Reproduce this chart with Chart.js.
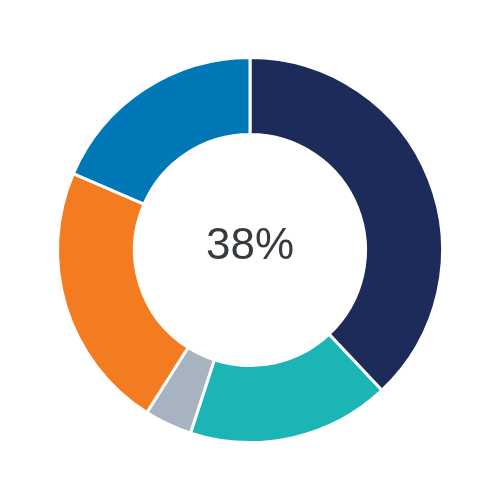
<!DOCTYPE html>
<html>
<head>
<meta charset="utf-8">
<script src="https://cdn.jsdelivr.net/npm/chart.js@4/dist/chart.umd.min.js"></script>
<style>
  html, body { margin: 0; padding: 0; background: #fff; }
  #wrap { width: 500px; height: 500px; }
</style>
</head>
<body>
<div id="wrap"><canvas id="chart"></canvas></div>
<script>
const labels = ['A', 'B', 'C', 'D', 'E'];
const values = [38, 17, 4, 22.5, 18.5];
const colors = ['#1c2b5a', '#1bb5b5', '#a8b3c2', '#f47c20', '#0077b6'];
const centerText = '38%';

const centerLabel = {
    id: 'centerLabel',
    afterDraw(chart) {
        const meta = chart.getDatasetMeta(0);
        const arc = meta.data[0];
        if (!arc) return;
        const ctx = chart.ctx;
        ctx.save();
        ctx.font = '44px "Liberation Sans", Arial, sans-serif';
        ctx.fillStyle = '#363b40';
        ctx.textAlign = 'center';
        ctx.textBaseline = 'middle';
        ctx.fillText(centerText, arc.x, arc.y - 3);
        ctx.restore();
    }
};

new Chart(document.getElementById('chart'), {
    type: 'doughnut',
    data: {
        labels: labels,
        datasets: [{
            data: values,
            backgroundColor: colors,
            borderColor: '#ffffff',
            borderWidth: 3
        }]
    },
    options: {
        responsive: true,
        maintainAspectRatio: false,
        animation: false,
        cutout: '60%',
        layout: { padding: 56 },
        plugins: {
            legend: { display: false },
            tooltip: { enabled: false }
        }
    },
    plugins: [centerLabel]
});
</script>
</body>
</html>
